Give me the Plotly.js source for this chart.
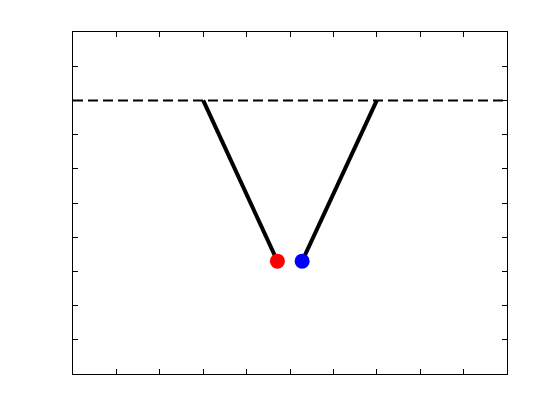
<!DOCTYPE html>
<html>
<head>
<meta charset="utf-8">
<script src="https://cdn.plot.ly/plotly-3.0.1.min.js"></script>
<style>
  html, body { margin: 0; padding: 0; background: #fff; }
  #chart { width: 560px; height: 420px; }
</style>
</head>
<body>
<div id="chart"></div>
<script>
// reference level (dashed)
const levelX = [0, 10];
const levelY = [8, 8];

// left arm: pivot -> red bob
const leftArmX = [3.0, 4.71];
const leftArmY = [8, 3.3];

// right arm: pivot -> blue bob
const rightArmX = [7.0, 5.28];
const rightArmY = [8, 3.3];

const bobX = [4.71, 5.28];
const bobY = [3.3, 3.3];
const bobColors = ['#ff0000', '#0000ff'];

const data = [
    {
        x: levelX, y: levelY, mode: 'lines',
        line: {color: '#000', width: 2, dash: '10px,5px'},
        hoverinfo: 'skip'
    },
    {
        x: leftArmX, y: leftArmY, mode: 'lines',
        line: {color: '#000', width: 4}
    },
    {
        x: rightArmX, y: rightArmY, mode: 'lines',
        line: {color: '#000', width: 4}
    },
    {
        x: bobX, y: bobY, mode: 'markers',
        marker: {color: bobColors, size: 15, line: {width: 0}}
    }
];

const axisStyle = {
    range: [0, 10],
    dtick: 1,
    ticks: 'inside',
    ticklen: 5,
    tickwidth: 1,
    tickcolor: '#000',
    showticklabels: false,
    showgrid: false,
    zeroline: false,
    showline: true,
    linecolor: '#000',
    linewidth: 1,
    mirror: 'ticks',
    fixedrange: true
};

const layout = {
    width: 560,
    height: 420,
    margin: {l: 73, r: 53, t: 32, b: 46},
    paper_bgcolor: '#fff',
    plot_bgcolor: '#fff',
    showlegend: false,
    xaxis: Object.assign({}, axisStyle),
    yaxis: Object.assign({}, axisStyle)
};

Plotly.newPlot('chart', data, layout, {displayModeBar: false, staticPlot: true});
</script>
</body>
</html>
